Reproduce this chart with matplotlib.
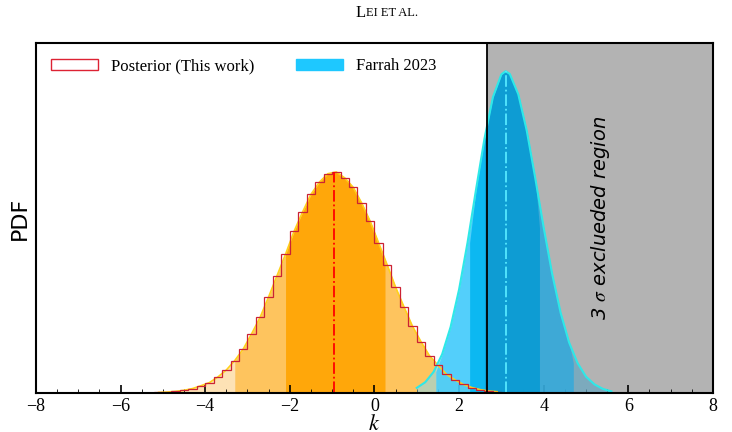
import numpy as np
import matplotlib.pyplot as plt
from matplotlib.patches import Patch

# posterior histogram (bin width 0.2)
bin_edges = np.round(np.arange(-5.2, 3.01, 0.2), 2)
post_hist = [0.002, 0.003, 0.005, 0.008, 0.013, 0.021, 0.030, 0.046, 0.066, 0.093,
             0.126, 0.170, 0.217, 0.275, 0.336, 0.397, 0.462, 0.517, 0.568, 0.603,
             0.627, 0.632, 0.615, 0.588, 0.543, 0.491, 0.429, 0.367, 0.303, 0.246,
             0.191, 0.147, 0.107, 0.080, 0.054, 0.038, 0.025, 0.016, 0.010, 0.006,
             0.004]
post_mean = -0.95
post_1s = (-2.15, 0.25)
post_2s = (-3.35, 1.45)
post_3s = (-5.3, 3.0)

# Farrah 2023 curve
farrah_k = [1.0, 1.2, 1.4, 1.6, 1.8, 2.0, 2.2, 2.4, 2.6, 2.8, 3.0, 3.1, 3.2, 3.4,
            3.6, 3.8, 4.0, 4.2, 4.4, 4.6, 4.8, 5.0, 5.2, 5.4, 5.6]
farrah_pdf = [0.015, 0.031, 0.061, 0.111, 0.189, 0.296, 0.430, 0.581, 0.727, 0.846,
              0.911, 0.920, 0.912, 0.854, 0.750, 0.615, 0.473, 0.341, 0.230, 0.145,
              0.086, 0.047, 0.025, 0.012, 0.005]
farrah_mean = 3.1
farrah_1s = (2.25, 3.9)
farrah_2s = (1.45, 4.7)
excl_k = 2.65

plt.rcParams['font.family'] = ['Liberation Serif']
plt.rcParams['mathtext.fontset'] = 'stix'

fig = plt.figure(figsize=(7.32, 4.32), dpi=100)
ax = fig.add_axes([0.049, 0.090, 0.925, 0.810])

# excluded region (behind the curves)
ax.axvspan(excl_k, 8, color='#b3b3b3', lw=0, zorder=0.5)

# posterior shading
centers = (bin_edges[:-1] + bin_edges[1:]) / 2
pk = np.array(centers)
pv = np.array(post_hist)
for (lo, hi), col in [(post_3s, '#fde2b5'), (post_2s, '#fec45e'), (post_1s, '#ffa70a')]:
    m = (pk >= lo - 0.1) & (pk <= hi + 0.1)
    xx = np.clip(pk[m], lo, hi)
    ax.fill_between(xx, pv[m], color=col, lw=0, zorder=1)
ax.plot(pk, pv, color='#ffd21a', lw=1.2, zorder=3)
ax.stairs(post_hist, bin_edges, color='#cc2233', lw=0.9, zorder=4)
ax.plot([post_mean, post_mean], [0, max(post_hist)], color='red', ls='-.', lw=1.3, zorder=5)

# Farrah shading
fk = np.array(farrah_k)
fv = np.array(farrah_pdf)
ax.fill_between(fk, fv, color='#8fd8e8', alpha=0.6, lw=0, zorder=2)
for (lo, hi), col, a in [(farrah_2s, '#30c8ff', 0.75), (farrah_1s, '#00b4f0', 0.85)]:
    m = (fk >= lo - 0.2) & (fk <= hi + 0.2)
    xx = np.clip(fk[m], lo, hi)
    ax.fill_between(xx, fv[m], color=col, alpha=a, lw=0, zorder=2)
ax.fill_between(fk, fv, where=fk >= excl_k - 0.2, color='#1a4f80', alpha=0.25, lw=0, zorder=2.5)
ax.plot(fk, fv, color='#2ee8e8', lw=1.5, zorder=3)
ax.plot([farrah_mean, farrah_mean], [0, max(farrah_pdf)], color='#55e8ff', ls='-.', lw=1.3, zorder=6)

ax.axvline(excl_k, color='black', lw=1.3, zorder=6)
ax.text(5.35, 0.5, r'3 $\sigma$ exclueded region', rotation=90, fontsize=14,
        family='DejaVu Sans', style='italic', ha='center', va='center', zorder=7)

ax.set_xlim(-8, 8)
ax.set_ylim(0, 1.0)
ax.set_yticks([])
ax.set_xticks(np.arange(-8, 9, 2))
ax.set_xticks(np.arange(-8, 8.1, 0.5), minor=True)
ax.tick_params(axis='x', direction='in', labelsize=13, length=6, width=1.2)
ax.tick_params(axis='x', which='minor', direction='in', length=3)
ax.set_xticklabels([f'{v:d}'.replace('-', '\u2212') for v in range(-8, 9, 2)])
for s in ax.spines.values():
    s.set_linewidth(1.5)
    s.set_zorder(8)
ax.set_ylabel('PDF', fontsize=16, family='DejaVu Sans')
ax.set_xlabel(r'$k$', fontsize=16, labelpad=0)

handles = [Patch(facecolor='none', edgecolor='#dd2233', label='Posterior (This work)'),
           Patch(facecolor='#1ec8ff', edgecolor='#1ec8ff', label='Farrah 2023')]
leg = ax.legend(handles=handles, loc='upper left', ncol=2, frameon=False, fontsize=12,
                handlelength=2.8, columnspacing=2.5, bbox_to_anchor=(0.0, 1.0))
leg.set_zorder(10)

fig.text(0.5, 0.97, 'L', fontsize=12, ha='right', va='center')
fig.text(0.5, 0.97, 'EI ET AL.', fontsize=9, ha='left', va='center')

fig.savefig('out.png', dpi=100)
